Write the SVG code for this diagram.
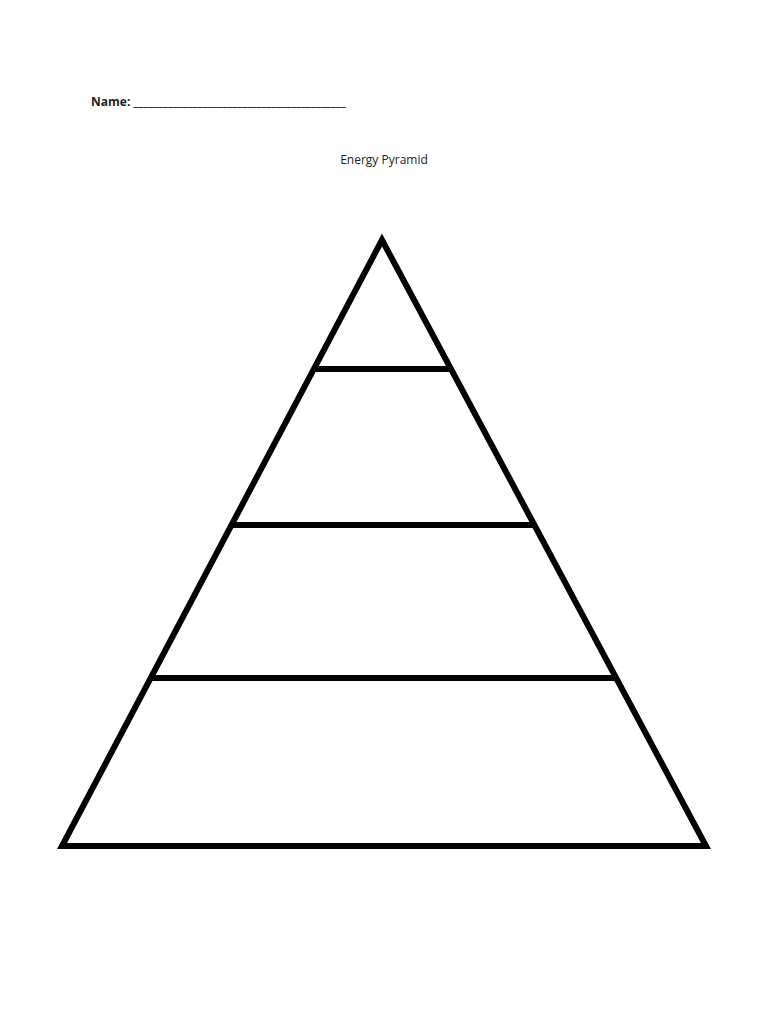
<svg xmlns="http://www.w3.org/2000/svg" width="768" height="1024" viewBox="0 0 768 1024">
<style>
.t{font-family:"Open Sans","Liberation Sans",sans-serif;font-size:12px;fill:#222}
.ln{stroke:#000;stroke-width:6;fill:none}
</style>
<rect width="768" height="1024" fill="#fff"/>
<g id="header">
<text class="t" x="91" y="106" font-weight="bold">Name: ___________________________________________</text>
<text class="t" x="384" y="164" text-anchor="middle">Energy Pyramid</text>
</g>
<g id="pyramid">
<polygon class="ln" points="382,240 706,846 62,846" stroke-linejoin="miter" stroke-miterlimit="10"/>
<line class="ln" x1="312" y1="369" x2="452" y2="369"/>
<line class="ln" x1="230" y1="525" x2="536" y2="525"/>
<line class="ln" x1="149" y1="678" x2="618" y2="678"/>
</g>
</svg>
